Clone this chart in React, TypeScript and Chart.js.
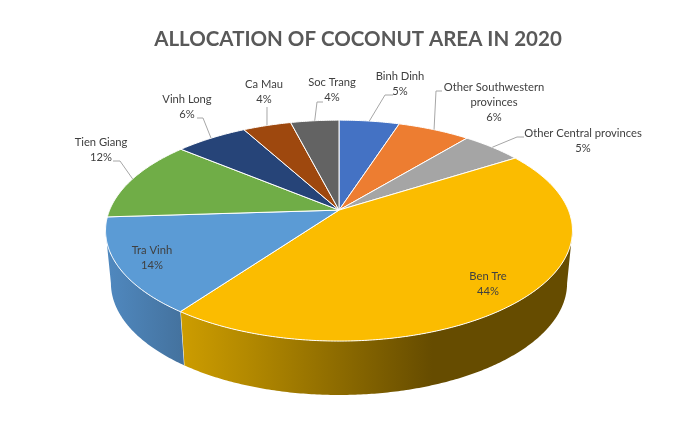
import { useEffect, useRef } from "react";
import { Chart, registerables } from "chart.js";

Chart.register(...registerables);

const provinces = [
  "Binh Dinh",
  "Other Southwestern provinces",
  "Other Central provinces",
  "Ben Tre",
  "Tra Vinh",
  "Tien Giang",
  "Vinh Long",
  "Ca Mau",
  "Soc Trang",
];
const shares = [5, 6, 5, 44, 14, 12, 6, 4, 4];
const sliceColors = ["#4472c4", "#ed7d31", "#a5a5a5", "#fbbc00", "#5b9bd5", "#70ad47", "#264478", "#9e480e", "#636363"];

// label placement: wrapped name, centre x, first baseline y, leader start and elbow
const labelLines = [
  ["Binh Dinh"],
  ["Other Southwestern", "provinces"],
  ["Other Central provinces"],
  ["Ben Tre"],
  ["Tra Vinh"],
  ["Tien Giang"],
  ["Vinh Long"],
  ["Ca Mau"],
  ["Soc Trang"],
];
const labelX = [400, 494, 583, 488, 152, 101, 187, 264, 332];
const labelY = [80, 91, 137, 280, 254, 146, 103, 88, 86];
const leaderFrom: (number[] | null)[] = [[393, 95], [442, 91], [524, 137], null, null, [113, 161], [197, 118], [267, 107], [323, 102]];
const leaderElbow: (number[] | null)[] = [[385, 95], [436, 91], [517, 137], null, null, [120, 161], [203, 118], null, [317, 102]];

// side wall shading, [offset, colour] along x between 105 and 572
const wallShades: Record<number, [number, string][]> = {
  3: [[0.167, "#cc9c00"], [0.3, "#b48a00"], [0.5, "#8d6b00"], [0.7, "#664c00"], [1, "#664c00"]],
  4: [[0, "#5089c0"], [0.167, "#44729e"], [1, "#44729e"]],
};

// perspective of the tilted disc
const TILT = 0.1855;
const Y_RATIO = 0.465;
const WALL_SCALE = 0.977;
const WALL_RADIUS_Y = 108;
const WALL_CENTER_Y = 262.4;
const PIE_SHIFT_X = -19;

function project(arc: any, angle: number) {
  const w = 1 - TILT * Math.sin(angle);
  const cx = arc.x + PIE_SHIFT_X;
  return {
    x: cx + (arc.outerRadius * Math.cos(angle)) / w,
    y: arc.y + (arc.outerRadius * Y_RATIO * Math.sin(angle)) / w,
  };
}

function projectBase(arc: any, angle: number) {
  const w = 1 - TILT * Math.sin(angle);
  const cx = arc.x + PIE_SHIFT_X;
  return {
    x: cx + (WALL_SCALE * arc.outerRadius * Math.cos(angle)) / w,
    y: WALL_CENTER_Y + (WALL_RADIUS_Y * Math.sin(angle)) / w,
  };
}

function sweep(a0: number, a1: number) {
  const steps = Math.max(2, Math.ceil((a1 - a0) / 0.01));
  const out: number[] = [];
  for (let i = 0; i <= steps; i++) out.push(a0 + ((a1 - a0) * i) / steps);
  return out;
}

const pie3d = {
  id: "pie3d",
  beforeDatasetsDraw(chart: any) {
    const { ctx } = chart;
    const arcs = chart.getDatasetMeta(0).data;
    const from = Math.asin(TILT);
    const to = Math.PI - from;

    // walls first, the top face covers whatever is behind it
    arcs.forEach((arc: any, i: number) => {
      const a0 = Math.max(arc.startAngle, from);
      const a1 = Math.min(arc.endAngle, to);
      if (a1 <= a0) return;
      const angles = sweep(a0, a1);
      ctx.beginPath();
      angles.forEach((a, n) => {
        const p = project(arc, a);
        if (n === 0) ctx.moveTo(p.x, p.y);
        else ctx.lineTo(p.x, p.y);
      });
      [...angles].reverse().forEach((a) => {
        const p = projectBase(arc, a);
        ctx.lineTo(p.x, p.y);
      });
      ctx.closePath();
      const grad = ctx.createLinearGradient(105, 0, 572, 0);
      (wallShades[i] || [[0, "#888888"], [1, "#888888"]]).forEach(([o, c]: any) => grad.addColorStop(o, c));
      ctx.fillStyle = grad;
      ctx.fill();

      if (arc.endAngle < to) {
        const t = project(arc, arc.endAngle);
        const b = projectBase(arc, arc.endAngle);
        ctx.beginPath();
        ctx.moveTo(t.x, t.y);
        ctx.lineTo(b.x, b.y);
        ctx.strokeStyle = "#ffffff";
        ctx.lineWidth = 1;
        ctx.stroke();
      }
    });

    arcs.forEach((arc: any) => {
      ctx.beginPath();
      ctx.moveTo(arc.x + PIE_SHIFT_X, arc.y);
      sweep(arc.startAngle, arc.endAngle).forEach((a) => {
        const p = project(arc, a);
        ctx.lineTo(p.x, p.y);
      });
      ctx.closePath();
      ctx.fillStyle = arc.options.backgroundColor;
      ctx.fill();
      ctx.strokeStyle = arc.options.borderColor;
      ctx.lineWidth = arc.options.borderWidth;
      ctx.lineJoin = "round";
      ctx.stroke();
    });
    return false;
  },
  afterDraw(chart: any) {
    const { ctx } = chart;
    const arcs = chart.getDatasetMeta(0).data;
    ctx.save();
    arcs.forEach((arc: any, i: number) => {
      const start = leaderFrom[i];
      if (start) {
        const end = project(arc, (arc.startAngle + arc.endAngle) / 2);
        ctx.beginPath();
        ctx.moveTo(start[0], start[1]);
        const elbow = leaderElbow[i];
        if (elbow) ctx.lineTo(elbow[0], elbow[1]);
        ctx.lineTo(end.x, end.y);
        ctx.strokeStyle = "#a6a6a6";
        ctx.lineWidth = 1;
        ctx.stroke();
      }
      ctx.fillStyle = "#404040";
      ctx.font = "11.2px Lato";
      ctx.textAlign = "center";
      ctx.textBaseline = "alphabetic";
      const lines = [...labelLines[i], `${shares[i]}%`];
      lines.forEach((line, n) => ctx.fillText(line, labelX[i], labelY[i] + n * 15));
    });
    ctx.restore();
  },
};

export default function App() {
  const canvasRef = useRef<HTMLCanvasElement | null>(null);

  useEffect(() => {
    const canvas = canvasRef.current;
    if (!canvas) return;
    const chart = new Chart(canvas, {
      type: "pie",
      data: {
        labels: provinces,
        datasets: [
          {
            data: shares,
            backgroundColor: sliceColors,
            borderColor: "#ffffff",
            borderWidth: 1,
          },
        ],
      },
      options: {
        responsive: false,
        animation: false,
        radius: 229.4,
        layout: { padding: { left: 16, right: 0, top: 0, bottom: 66.9 } },
        events: [],
        plugins: {
          legend: { display: false },
          tooltip: { enabled: false },
          title: {
            display: true,
            text: "ALLOCATION OF COCONUT AREA IN 2020",
            color: "#595959",
            font: { family: "Lato", size: 20.5, weight: "bold" },
            padding: { top: 27.5, bottom: 0 },
          },
        },
      } as any,
      plugins: [pie3d],
    });
    return () => chart.destroy();
  }, []);

  return (
    <div style={{ position: "absolute", left: 0, top: 0, width: 700, height: 435, background: "#ffffff" }}>
      <canvas ref={canvasRef} width={700} height={435} />
    </div>
  );
}
